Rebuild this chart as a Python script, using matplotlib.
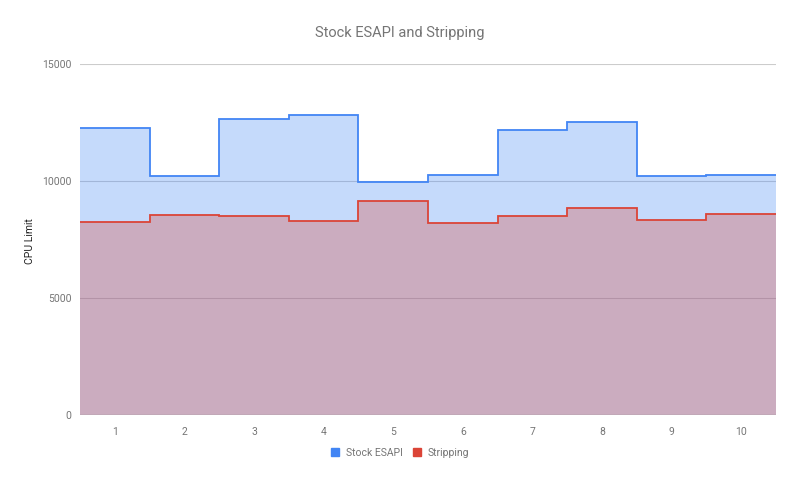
import matplotlib
matplotlib.use("Agg")
import matplotlib.pyplot as plt
import numpy as np
from matplotlib.patches import Patch

categories = ["1", "2", "3", "4", "5", "6", "7", "8", "9", "10"]
stock_esapi = [12270, 10200, 12640, 12810, 9950, 10235, 12160, 12530, 10205, 10265]
stripping = [8255, 8555, 8495, 8310, 9135, 8200, 8525, 8840, 8325, 8600]
y_ticks = [0, 5000, 10000, 15000]

plt.rcParams['font.family'] = ['Roboto', 'DejaVu Sans']

blue = '#4285f4'
red = '#db4437'
gray_text = '#757575'

fig = plt.figure(figsize=(8, 4.83), dpi=100)
ax = fig.add_axes([0.1, 0.1398, 0.87, 0.7282])

edges = np.arange(len(categories) + 1) - 0.5

for yt in y_ticks[1:]:
    ax.axhline(yt, color='#cccccc', lw=0.8, zorder=0)
ax.axhline(0, color='#999999', lw=1.0, zorder=5)

ax.stairs(stock_esapi, edges, baseline=0, fill=True, color=blue, alpha=0.3, lw=0, zorder=1)
ax.stairs(stripping, edges, baseline=0, fill=True, color=red, alpha=0.3, lw=0, zorder=2)
ax.stairs(stock_esapi, edges, baseline=None, color=blue, lw=1.3, zorder=3)
ax.stairs(stripping, edges, baseline=None, color=red, lw=1.3, zorder=4)

ax.set_xlim(-0.5, len(categories) - 0.5)
ax.set_ylim(0, 15000)
ax.set_xticks(np.arange(len(categories)))
ax.set_xticklabels(categories)
ax.set_yticks(y_ticks)
ax.set_yticklabels([str(v) for v in y_ticks])
ax.tick_params(axis='both', length=0, labelsize=7.5, colors=gray_text)
ax.tick_params(axis='x', pad=8)
ax.tick_params(axis='y', pad=6)
for s in ax.spines.values():
    s.set_visible(False)

fig.text(0.0375, 0.5, 'CPU Limit', rotation=90, ha='center', va='center',
         fontsize=7.5, color='#222222')
fig.text(0.5, 0.932, 'Stock ESAPI and Stripping', ha='center', va='center',
         fontsize=10.5, color=gray_text)

handles = [Patch(facecolor=blue, edgecolor=blue), Patch(facecolor=red, edgecolor=red)]
fig.legend(handles, ['Stock ESAPI', 'Stripping'], loc='center', bbox_to_anchor=(0.5, 0.062),
           ncol=2, frameon=False, fontsize=7.5, labelcolor=gray_text,
           handlelength=0.8, handleheight=0.8, columnspacing=1.0, handletextpad=0.6)

fig.savefig('out.png', dpi=100)
